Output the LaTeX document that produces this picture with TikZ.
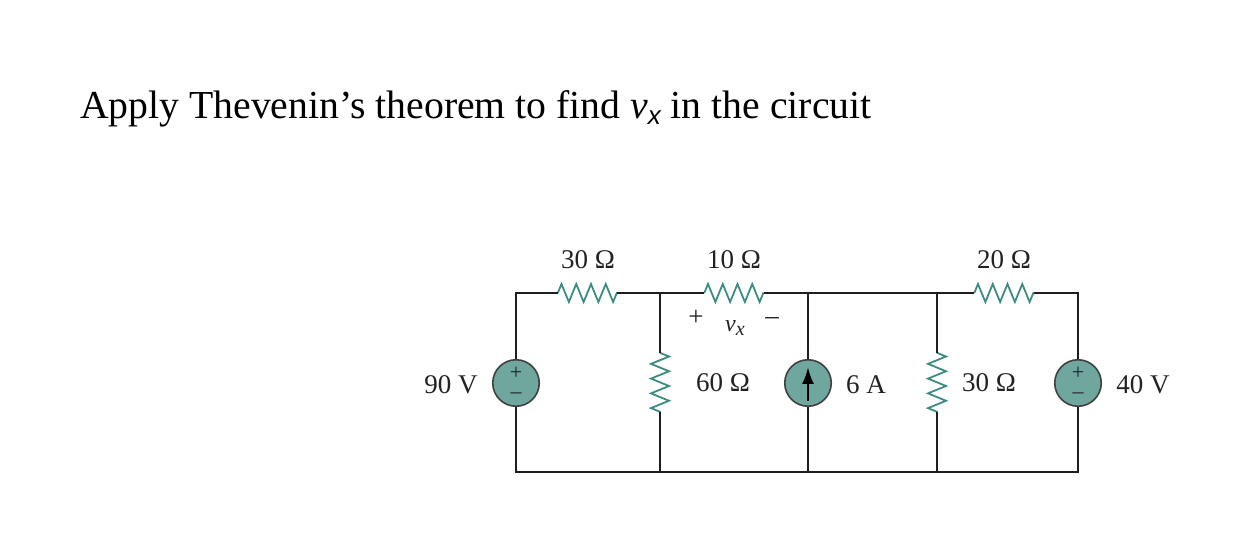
\documentclass[tikz,border=0pt]{standalone}
\usepackage{fontspec}
\setmainfont{Liberation Serif}
\newfontfamily\subfont{Liberation Sans}
\usetikzlibrary{arrows.meta,decorations.pathmorphing}
\definecolor{srcfill}{HTML}{6FA79E}
\definecolor{rescol}{HTML}{3D8C82}
\definecolor{wirecol}{HTML}{1E1E1E}
\definecolor{txtcol}{HTML}{222222}

\begin{document}
\begin{tikzpicture}[x=1pt,y=-1pt,
  wire/.style={draw=wirecol, line width=2.2pt},
  source/.style={circle, draw=wirecol!85, fill=srcfill, line width=1.6pt, minimum size=46.5pt, inner sep=0pt},
  hres/.style={minimum width=59pt, minimum height=18pt, inner sep=0pt},
  vres/.style={minimum width=18pt, minimum height=59pt, inner sep=0pt},
  zig/.style={draw=rescol, line width=1.8pt, decorate, decoration={zigzag, segment length=14.75pt, amplitude=9pt}},
  val/.style={font=\fontsize{27}{27}\selectfont, text=txtcol, inner sep=0pt, anchor=base},
  sign/.style={font=\fontsize{27}{27}\selectfont, text=txtcol, inner sep=0pt},
  srcsign/.style={font=\fontsize{22}{22}\selectfont, text=txtcol, inner sep=0pt},
]
\useasboundingbox (0,0) rectangle (1235,549);

\node[font=\fontsize{39.7}{39.7}\selectfont, inner sep=0pt, anchor=base west] (title) at (80,118)
  {Apply Thevenin’s theorem to find \textit{v}\raisebox{-6pt}{\subfont\itshape\fontsize{26}{26}\selectfont x} in the circuit};

% corners and junctions
\coordinate (tl) at (516,293);
\coordinate (tb) at (660,293);
\coordinate (tc) at (808,293);
\coordinate (td) at (937,293);
\coordinate (tr) at (1078,293);
\coordinate (bl) at (516,472);
\coordinate (bb) at (660,472);
\coordinate (bc) at (808,472);
\coordinate (bd) at (937,472);
\coordinate (br) at (1078,472);

% resistors
\node[hres] (r30) at (587.5,293) {};
\node[hres] (r10) at (734,293) {};
\node[hres] (r20) at (1004,293) {};
\node[vres] (r60) at (660,382.5) {};
\node[vres] (r30b) at (937,382.5) {};
\foreach \r in {r30,r10,r20} \draw[zig] (\r.west) -- (\r.east);
\draw[zig] (r60.north) -- (r60.south);
\draw[zig] (r30b.north) -- (r30b.south);

% sources
\node[source] (s90) at (516,383) {};
\node[source] (s6) at (808,383) {};
\node[source] (s40) at (1078,383) {};
\node[srcsign] (s90p) at (516,373) {+};
\node[srcsign] (s90m) at (516,396) {--};
\node[srcsign] (s40p) at (1078,373) {+};
\node[srcsign] (s40m) at (1078,396) {--};

% wires
\draw[wire] (s90.north) -- (tl) -- (r30.west);
\draw[wire] (r30.east) -- (r10.west);
\draw[wire] (r10.east) -- (r20.west);
\draw[wire] (r20.east) -- (tr) -- (s40.north);
\draw[wire] (s90.south) -- (bl) -- (br) -- (s40.south);
\draw[wire] (tb) -- (r60.north);
\draw[wire] (r60.south) -- (bb);
\draw[wire] (tc) -- (s6.north);
\draw[wire] (s6.south) -- (bc);
\draw[wire] (td) -- (r30b.north);
\draw[wire] (r30b.south) -- (bd);
\draw[-{Latex[length=17pt,width=12pt]}, line width=2.6pt, black] ([yshift=6.5pt]s6.south) -- ([yshift=-8pt]s6.north);

% labels
\node[val] (l30) at (588,268) {30 Ω};
\node[val] (l10) at (734,268) {10 Ω};
\node[val] (l20) at (1004,268) {20 Ω};
\node[val] (l60) at (723,391) {60 Ω};
\node[val] (l30b) at (989,391) {30 Ω};
\node[val] (l90) at (451,393) {90 V};
\node[val] (l40) at (1143,393) {40 V};
\node[val] (l6) at (866,393) {6 A};
\node[sign] (vp) at (696,318) {+};
\node[sign] (vm) at (772,321) {--};
\node[val, font=\fontsize{24}{24}\selectfont] (vx) at (735,331) {\textit{v}\raisebox{-4pt}{\textit{\fontsize{20}{20}\selectfont x}}};
\end{tikzpicture}
\end{document}
